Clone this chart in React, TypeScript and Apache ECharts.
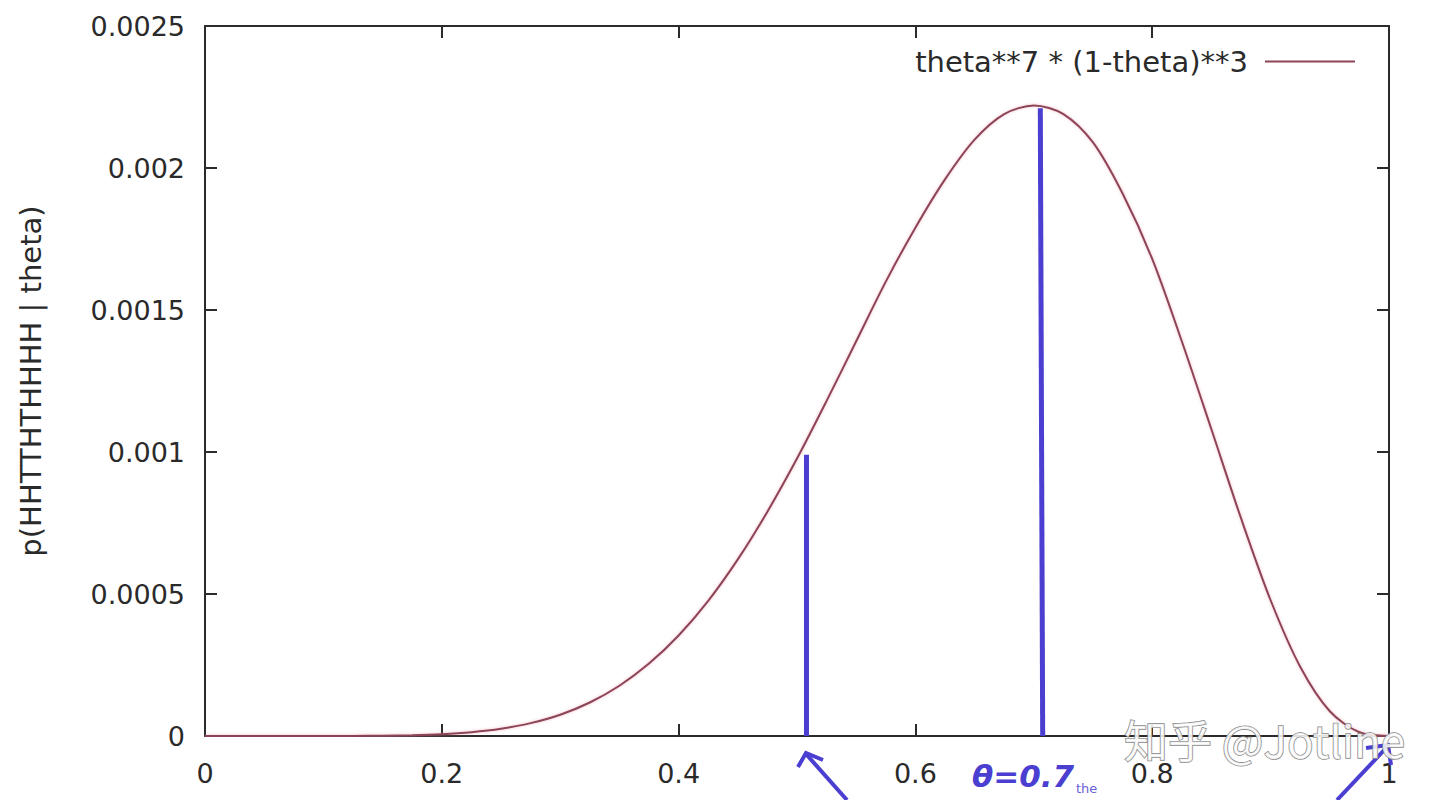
import React, { useEffect, useRef } from "react";
import * as echarts from "echarts";

const thetaValues = [
  0, 0.025, 0.05, 0.075, 0.1, 0.125, 0.15, 0.175, 0.2, 0.225, 0.25, 0.275, 0.3, 0.325, 0.35, 0.375, 0.4,
  0.425, 0.45, 0.475, 0.5, 0.525, 0.55, 0.575, 0.6, 0.625, 0.65, 0.675, 0.7, 0.725, 0.75, 0.775, 0.8,
  0.825, 0.85, 0.875, 0.9, 0.925, 0.95, 0.975, 1,
];
const likelihood = [
  0, 0, 0.0000000007, 0.0000000104, 0.0000000729, 0.000000319, 0.00000105, 0.00000282, 0.00000655,
  0.0000136, 0.0000257, 0.0000453, 0.000075, 0.000118, 0.000177, 0.000255, 0.000354, 0.000476, 0.000622,
  0.00079, 0.000977, 0.00118, 0.00139, 0.0016, 0.00179, 0.00196, 0.0021, 0.00219, 0.00222, 0.00219,
  0.00209, 0.00191, 0.00168, 0.00139, 0.00108, 0.000767, 0.000478, 0.000244, 0.0000873, 0.0000131, 0,
];
const seriesName = "theta**7 * (1-theta)**3";
const yAxisName = "p(HHTTHTHHHH | theta)";
// hand-drawn blue markers: [theta, value] pairs
const markerHalf = [
  [0.508, 0],
  [0.508, 0.00099],
];
const markerPeak = [
  [0.7075, 0],
  [0.7055, 0.00221],
];
const annotationText = "θ=0.7";
const annotationSub = "the";
const watermarkText = "知乎 @Jotline";

const FONT = "DejaVu Sans";
const AXIS_COLOR = "#2b2b2b";
const TEXT_COLOR = "#2a2a2a";
const BLUE = "#4a3fd0";

export default function App() {
  const ref = useRef<HTMLDivElement>(null);
  useEffect(() => {
    if (!ref.current) return;
    const chart = echarts.init(ref.current, undefined, { renderer: "svg" });
    const curve = thetaValues.map((t, i) => [t, likelihood[i]]);
    const axisLine = { show: true, onZero: false, lineStyle: { color: AXIS_COLOR, width: 2 } };
    const axisTick = { show: true, inside: true, length: 12, lineStyle: { color: AXIS_COLOR, width: 2 } };
    const fmt = (v: number) => String(+v.toFixed(4));
    chart.setOption({
      animation: false,
      backgroundColor: "#ffffff",
      grid: { left: 205, top: 26, width: 1184, height: 710, containLabel: false },
      legend: {
        data: [seriesName],
        right: 80,
        top: 42,
        align: "right",
        itemWidth: 90,
        itemHeight: 2,
        icon: "rect",
        textStyle: { fontFamily: FONT, fontSize: 29, color: TEXT_COLOR, padding: [0, 12, 0, 0] },
      },
      xAxis: [
        {
          type: "value",
          min: 0,
          max: 1,
          interval: 0.2,
          axisLine,
          axisTick,
          splitLine: { show: false },
          axisLabel: { fontFamily: FONT, fontSize: 27, color: TEXT_COLOR, margin: 24, formatter: fmt },
        },
        {
          type: "value",
          position: "top",
          min: 0,
          max: 1,
          interval: 0.2,
          axisLine,
          axisTick,
          splitLine: { show: false },
          axisLabel: { show: false },
        },
      ],
      yAxis: [
        {
          type: "value",
          min: 0,
          max: 0.0025,
          interval: 0.0005,
          axisLine,
          axisTick,
          splitLine: { show: false },
          axisLabel: { fontFamily: FONT, fontSize: 27, color: TEXT_COLOR, margin: 20, formatter: fmt },
          name: yAxisName,
          nameLocation: "middle",
          nameGap: 160,
          nameRotate: 90,
          nameTextStyle: { fontFamily: FONT, fontSize: 29, color: TEXT_COLOR },
        },
        {
          type: "value",
          position: "right",
          min: 0,
          max: 0.0025,
          interval: 0.0005,
          axisLine,
          axisTick,
          splitLine: { show: false },
          axisLabel: { show: false },
        },
      ],
      series: [
        {
          name: seriesName,
          type: "line",
          data: curve,
          smooth: 0.3,
          showSymbol: false,
          symbol: "none",
          lineStyle: { color: "#8c4457", width: 2, shadowColor: "rgba(230,120,140,0.5)", shadowBlur: 3 },
          itemStyle: { color: "#8c4457" },
          z: 3,
        },
        {
          name: "marker-half",
          type: "line",
          data: markerHalf,
          symbol: "none",
          lineStyle: { color: BLUE, width: 5 },
          z: 4,
        },
        {
          name: "marker-peak",
          type: "line",
          data: markerPeak,
          symbol: "none",
          lineStyle: { color: BLUE, width: 5 },
          z: 4,
        },
      ],
      graphic: [
        {
          type: "polyline",
          shape: { points: [[847, 800], [806, 754]] },
          style: { stroke: BLUE, lineWidth: 4, fill: "none" },
          z: 10,
        },
        {
          type: "polyline",
          shape: { points: [[798, 767], [806, 753], [823, 760]] },
          style: { stroke: BLUE, lineWidth: 4, fill: "none" },
          z: 10,
        },
        {
          type: "polyline",
          shape: { points: [[1337, 800], [1388, 746]] },
          style: { stroke: BLUE, lineWidth: 4, fill: "none" },
          z: 10,
        },
        {
          type: "polyline",
          shape: { points: [[1366, 748], [1388, 745], [1391, 765]] },
          style: { stroke: BLUE, lineWidth: 4, fill: "none" },
          z: 10,
        },
        {
          type: "text",
          x: 972,
          y: 760,
          style: {
            text: annotationText,
            fontFamily: FONT,
            fontSize: 31,
            fontWeight: "bold",
            fontStyle: "italic",
            fill: BLUE,
          },
          z: 10,
        },
        {
          type: "text",
          x: 1076,
          y: 782,
          style: { text: annotationSub, fontFamily: FONT, fontSize: 13, fill: "#6a60d8" },
          z: 10,
        },
        {
          type: "text",
          x: 1124,
          y: 717,
          style: {
            text: watermarkText,
            fontFamily: "Noto Sans CJK SC",
            fontSize: 44,
            fill: "rgba(255,255,255,0.85)",
            stroke: "#8a8a8a",
            lineWidth: 1.5,
          },
          z: 20,
        },
      ],
    });
    return () => chart.dispose();
  }, []);
  return (
    <div
      ref={ref}
      style={{ position: "absolute", left: 0, top: 0, width: 1440, height: 800, background: "#fff" }}
    />
  );
}
